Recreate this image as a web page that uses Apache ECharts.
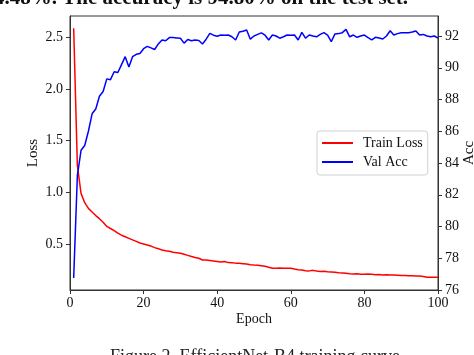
<!DOCTYPE html>
<html>
<head>
<meta charset="utf-8">
<script src="https://cdn.jsdelivr.net/npm/echarts@6/dist/echarts.min.js"></script>
<style>
  html, body { margin: 0; padding: 0; background: #fff; }
  #chart { width: 474px; height: 355px; }
</style>
</head>
<body>
<div id="chart"></div>
<script>
// epochs 1..100
var epochs = [];
for (var i = 1; i <= 100; i++) {
    epochs.push(i);
}

var trainLoss = [
    2.587, 1.26, 0.99, 0.90, 0.845, 0.81, 0.775, 0.745, 0.71, 0.67,
    0.65, 0.63, 0.605, 0.585, 0.57, 0.555, 0.54, 0.525, 0.51, 0.50,
    0.49, 0.48, 0.465, 0.455, 0.442, 0.435, 0.43, 0.42, 0.415, 0.41,
    0.40, 0.39, 0.38, 0.37, 0.362, 0.345, 0.345, 0.34, 0.335, 0.33,
    0.325, 0.33, 0.32, 0.318, 0.315, 0.313, 0.31, 0.306, 0.30, 0.297,
    0.295, 0.29, 0.285, 0.275, 0.266, 0.265, 0.268, 0.265, 0.266, 0.265,
    0.258, 0.252, 0.248, 0.242, 0.24, 0.245, 0.238, 0.235, 0.236, 0.232,
    0.23, 0.226, 0.222, 0.22, 0.217, 0.213, 0.21, 0.212, 0.208, 0.207,
    0.21, 0.207, 0.203, 0.204, 0.20, 0.202, 0.20, 0.20, 0.198, 0.196,
    0.195, 0.193, 0.192, 0.19, 0.19, 0.185, 0.178, 0.178, 0.178, 0.178
];

var valAcc = [
    76.76, 83.2, 84.8, 85.1, 86.0, 87.1, 87.4, 88.2, 88.5, 89.3,
    89.25, 89.75, 89.7, 90.2, 90.7, 90.05, 90.7, 90.85, 90.9, 91.2,
    91.35, 91.25, 91.15, 91.5, 91.75, 91.7, 91.9, 91.9, 91.88, 91.86,
    91.55, 91.78, 91.7, 91.75, 91.72, 91.5, 91.8, 92.17, 92.05, 91.98,
    92.06, 92.05, 92.06, 91.95, 91.75, 92.25, 92.3, 92.38, 91.8, 92.0,
    92.1, 92.2, 92.05, 91.75, 92.06, 92.0, 91.86, 91.95, 92.06, 92.04,
    92.06, 91.75, 92.23, 91.86, 92.06, 92.0, 91.95, 92.1, 92.21, 92.06,
    91.64, 92.13, 92.15, 92.21, 92.42, 91.95, 92.06, 91.92, 92.0, 92.06,
    91.9, 91.75, 91.92, 91.88, 91.81, 92.0, 92.33, 92.06, 92.15, 92.21,
    92.2, 92.21, 92.25, 92.32, 92.06, 92.1, 92.0, 91.95, 92.0, 91.86
];

var lossTicks = [0.5, 1.0, 1.5, 2.0, 2.5];
var accTicks = [76, 78, 80, 82, 84, 86, 88, 90, 92];

var headText = '4.48%. The accuracy is 94.80% on the test set.';
var captionText = 'Figure 2. EfficientNet-B4 training curve';

function pairs(xs, ys) {
    var out = [];
    for (var k = 0; k < ys.length; k++) {
        out.push([xs[k], ys[k]]);
    }
    return out;
}

var serif = '"Liberation Serif", "DejaVu Serif", serif';
var axisColor = '#333';

var chart = echarts.init(document.getElementById('chart'));
var option = {
    animation: false,
    grid: {
        left: 70, right: 36, top: 16, bottom: 65,
        outerBoundsMode: 'none',
        containLabel: false,
        show: true,
        borderColor: axisColor,
        borderWidth: 1
    },
    legend: {
        orient: 'vertical',
        left: 317,
        top: 131,
        padding: [5, 5, 6, 5],
        itemGap: 5,
        itemWidth: 31,
        itemHeight: 2,
        icon: 'rect',
        borderColor: '#d0d0d0',
        borderWidth: 1,
        borderRadius: 3,
        textStyle: {
            fontFamily: serif,
            fontSize: 14,
            color: '#111',
            padding: [0, 0, 0, 5]
        },
        data: ['Train Loss', 'Val Acc']
    },
    graphic: [
        {
            type: 'text',
            left: -6,
            top: -12,
            style: {
                text: headText,
                font: 'bold 21px ' + serif,
                fill: '#111'
            }
        },
        {
            type: 'text',
            left: 110,
            top: 348,
            style: {
                text: captionText,
                font: '18px ' + serif,
                fill: '#222'
            }
        }
    ],
    xAxis: {
        type: 'value',
        min: 0,
        max: 100,
        interval: 20,
        name: 'Epoch',
        nameLocation: 'middle',
        nameGap: 22,
        nameMoveOverlap: false,
        nameTextStyle: { fontFamily: serif, fontSize: 14, color: '#111' },
        axisLine: { lineStyle: { color: axisColor } },
        axisTick: { length: 4, lineStyle: { color: axisColor } },
        axisLabel: { fontFamily: serif, fontSize: 14, color: '#111', margin: 6 },
        splitLine: { show: false }
    },
    yAxis: [
        {
            type: 'value',
            position: 'left',
            min: 0.055,
            max: 2.706,
            name: 'Loss',
            nameLocation: 'middle',
            nameRotate: 90,
            nameGap: 29,
            nameMoveOverlap: false,
            nameTextStyle: { fontFamily: serif, fontSize: 15, color: '#111' },
            axisLine: { show: true, lineStyle: { color: axisColor } },
            axisTick: { show: true, length: 4, customValues: lossTicks, lineStyle: { color: axisColor } },
            axisLabel: {
                fontFamily: serif, fontSize: 14, color: '#111', margin: 7,
                customValues: lossTicks,
                formatter: function (v) { return v.toFixed(1); }
            },
            splitLine: { show: false }
        },
        {
            type: 'value',
            position: 'right',
            min: 76,
            max: 93.26,
            name: 'Acc',
            nameLocation: 'middle',
            nameRotate: 90,
            nameGap: 24,
            nameMoveOverlap: false,
            nameTextStyle: { fontFamily: serif, fontSize: 15, color: '#111' },
            axisLine: { show: true, lineStyle: { color: axisColor } },
            axisTick: { show: true, length: 4, customValues: accTicks, lineStyle: { color: axisColor } },
            axisLabel: {
                fontFamily: serif, fontSize: 14, color: '#111', margin: 7,
                customValues: accTicks
            },
            splitLine: { show: false }
        }
    ],
    series: [
        {
            name: 'Train Loss',
            type: 'line',
            yAxisIndex: 0,
            showSymbol: false,
            symbol: 'none',
            data: pairs(epochs, trainLoss),
            lineStyle: { color: '#ff0000', width: 1.5 },
            itemStyle: { color: '#ff0000' }
        },
        {
            name: 'Val Acc',
            type: 'line',
            yAxisIndex: 1,
            showSymbol: false,
            symbol: 'none',
            data: pairs(epochs, valAcc),
            lineStyle: { color: '#0000ff', width: 1.5 },
            itemStyle: { color: '#0000ff' }
        }
    ]
};
chart.setOption(option);
</script>
</body>
</html>
